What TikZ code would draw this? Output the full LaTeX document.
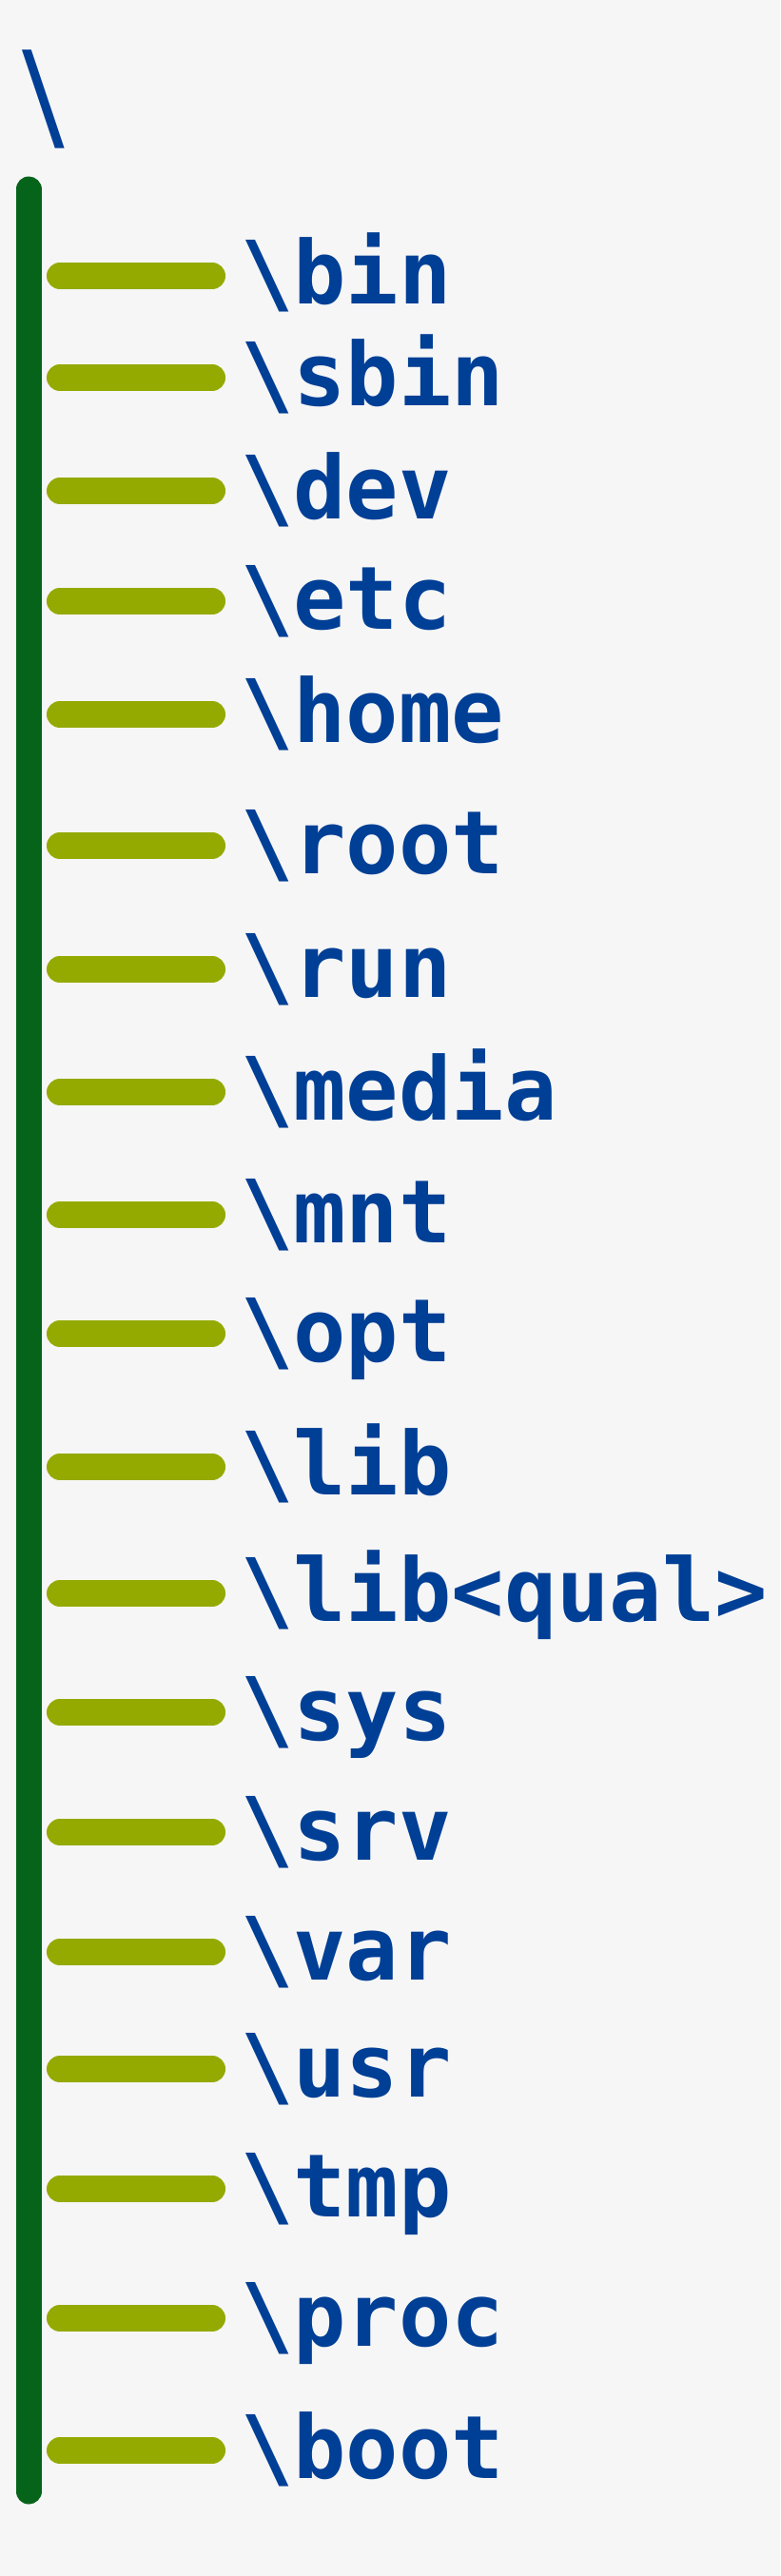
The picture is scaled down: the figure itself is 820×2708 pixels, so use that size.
\documentclass[tikz,border=0pt]{standalone}
\usepackage{fontspec}
\newfontfamily\dmono{DejaVu Sans Mono}
\definecolor{bgc}{HTML}{F6F6F6}
\definecolor{txtblue}{HTML}{003F96}
\definecolor{trunkgreen}{HTML}{06641A}
\definecolor{branchgreen}{HTML}{94AA00}
\tikzset{
  dirlabel/.style={anchor=base west, inner sep=0pt, text=txtblue,
    font=\dmono\bfseries\fontsize{92}{92}\selectfont},
  rootlabel/.style={anchor=base west, inner sep=0pt, text=txtblue, xscale=0.72,
    font=\dmono\bfseries\fontsize{126}{126}\selectfont},
  trunkline/.style={draw=trunkgreen, line width=27pt, line cap=round},
  branchline/.style={draw=branchgreen, line width=28pt, line cap=round}
}
\begin{document}
\begin{tikzpicture}[x=1pt,y=-1pt]
\fill[bgc] (0,0) rectangle (820,2708);
\useasboundingbox (0,0) rectangle (820,2708);
\node[rootlabel] (root) at (18,145) {\textbackslash};
\coordinate (ttop) at (30,199);
\coordinate (tbot) at (30,2619);
\draw[trunkline] (ttop) -- (tbot);
\foreach \name/\txt/\y in {
  bin/bin/290, sbin/sbin/397, dev/dev/516, etc/etc/632, home/home/751,
  rootd/root/889, run/run/1019, media/media/1148, mnt/mnt/1277,
  opt/opt/1402, lib/lib/1542, libq/lib<qual>/1675, sys/sys/1800,
  srv/srv/1926, var/var/2052, usr/usr/2175, tmp/tmp/2301,
  proc/proc/2437, boot/boot/2576} {
  \node[dirlabel] (\name) at (253,\y+29) {\textbackslash\txt};
  \coordinate (b-\name) at (63,\y);
  \coordinate (e-\name) at (223,\y);
  \draw[branchline] (b-\name) -- (e-\name);
}
\end{tikzpicture}
\end{document}
